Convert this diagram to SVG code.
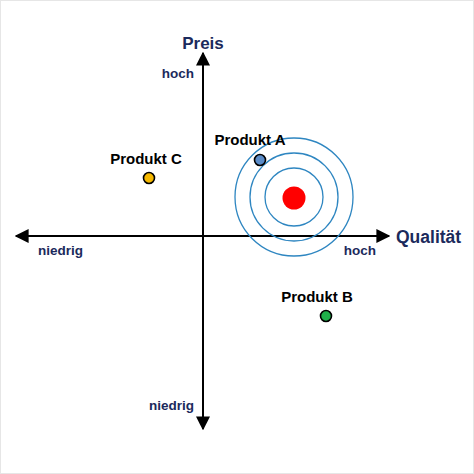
<svg xmlns="http://www.w3.org/2000/svg" width="474" height="474" viewBox="0 0 474 474">
<style>
.lbl{font-family:"Liberation Sans",Arial,sans-serif;font-weight:bold;fill:#1b2a5c}
.sm{font-size:13.5px}
.prod{font-family:"Liberation Sans",Arial,sans-serif;font-weight:bold;fill:#000;font-size:15px}
.ring{fill:none;stroke:#2e86c1;stroke-width:1.3}
.dot{stroke:#000;stroke-width:1.6}
</style>
<defs>
<marker id="ah" viewBox="0 0 10 10" refX="9" refY="5" markerWidth="14" markerHeight="14" markerUnits="userSpaceOnUse" orient="auto">
<path d="M0,0 L10,5 L0,10 z" fill="#000"/>
</marker>
</defs>
<rect x="0.5" y="0.5" width="473" height="473" fill="#fff" stroke="#e6e6e6"/>
<g id="connectors">
<line x1="203" y1="236" x2="203" y2="53" stroke="#000" stroke-width="2" marker-end="url(#ah)"/>
<line x1="203" y1="236" x2="203" y2="429" stroke="#000" stroke-width="2" marker-end="url(#ah)"/>
<line x1="203" y1="236" x2="16" y2="236" stroke="#000" stroke-width="2" marker-end="url(#ah)"/>
<line x1="203" y1="236" x2="389" y2="236" stroke="#000" stroke-width="2" marker-end="url(#ah)"/>
</g>
<g id="target">
<circle class="ring" cx="294" cy="197" r="29"/>
<circle class="ring" cx="294" cy="197" r="44"/>
<circle class="ring" cx="294" cy="197" r="59"/>
<circle cx="294" cy="198" r="11.5" fill="#ff0000"/>
</g>
<g id="axis-labels">
<text class="lbl" x="203" y="49" font-size="17" text-anchor="middle">Preis</text>
<text class="lbl sm" x="194" y="78" text-anchor="end">hoch</text>
<text class="lbl sm" x="194" y="410" text-anchor="end">niedrig</text>
<text class="lbl sm" x="38" y="255">niedrig</text>
<text class="lbl sm" x="376" y="255" text-anchor="end">hoch</text>
<text class="lbl" x="396" y="243" font-size="17.5">Qualität</text>
</g>
<g id="produkt-a">
<circle class="dot" cx="260" cy="160" r="5.5" fill="#5b8cc8"/>
<text class="prod" x="250" y="145" text-anchor="middle">Produkt A</text>
</g>
<g id="produkt-b">
<circle class="dot" cx="326" cy="316" r="5.5" fill="#1fb04a"/>
<text class="prod" x="317" y="302" text-anchor="middle">Produkt B</text>
</g>
<g id="produkt-c">
<circle class="dot" cx="149" cy="178" r="5.5" fill="#f5b800"/>
<text class="prod" x="146" y="164" text-anchor="middle">Produkt C</text>
</g>
</svg>
